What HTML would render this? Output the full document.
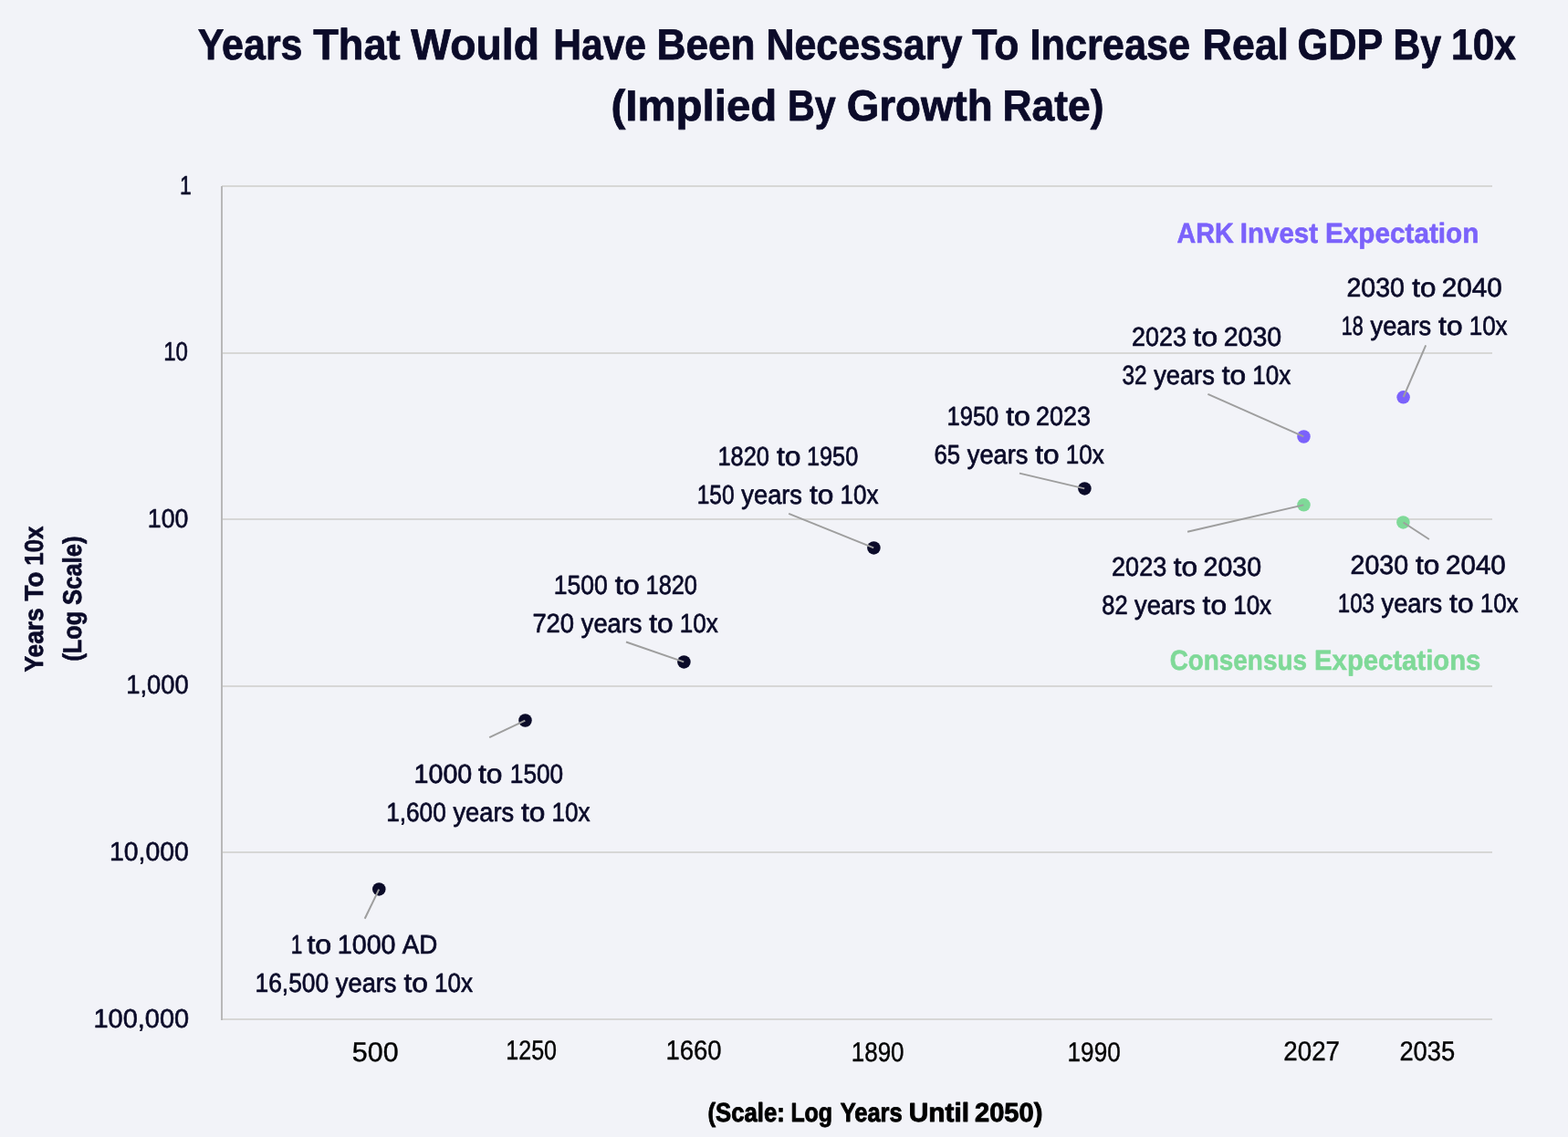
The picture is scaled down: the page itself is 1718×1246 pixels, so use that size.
<!DOCTYPE html>
<html lang="en">
<head>
<meta charset="utf-8">
<title>Years That Would Have Been Necessary To Increase Real GDP By 10x</title>
<style>
html,body{margin:0;padding:0;background:#f2f3f8;}
body{width:1718px;height:1246px;overflow:hidden;}
svg{display:block;}
text{font-family:"Liberation Sans",sans-serif;stroke-linejoin:round;text-rendering:geometricPrecision;}
.b{font-weight:bold;}
.title{font-size:47.46px;stroke-width:0.8;}
.ylab{font-size:28.97px;stroke-width:0.6;}
.xlab{font-size:29.84px;stroke-width:0.4;}
.xtitle{font-size:29.07px;stroke-width:0.9;}
.dl{font-size:29.14px;stroke-width:0.7;}
.legend{font-size:30.81px;stroke-width:0.6;}
.rot{font-size:28.63px;stroke-width:0.7;}
</style>
</head>
<body>
<svg width="1718" height="1246" viewBox="0 0 1718 1246">
<rect width="1718" height="1246" fill="#f2f3f8"/>
<g id="grid">
<rect x="243" y="203.0" width="1392" height="2" fill="#d7d7d6"/>
<rect x="243" y="386.0" width="1392" height="2" fill="#d7d7d6"/>
<rect x="243" y="568.0" width="1392" height="2" fill="#d7d7d6"/>
<rect x="243" y="751.0" width="1392" height="2" fill="#d7d7d6"/>
<rect x="243" y="933.0" width="1392" height="2" fill="#d7d7d6"/>
<rect x="243" y="1116.0" width="1392" height="2" fill="#d7d7d6"/>
<rect x="242" y="204.0" width="2" height="914.0" fill="#b8b8b8"/>
</g>
<g id="points">
<circle cx="415.3" cy="974.4" r="7.25" fill="#0b0b29"/>
<circle cx="575.5" cy="789.5" r="7.25" fill="#0b0b29"/>
<circle cx="749.4" cy="725.4" r="7.25" fill="#0b0b29"/>
<circle cx="957.4" cy="600.4" r="7.25" fill="#0b0b29"/>
<circle cx="1188.4" cy="535.4" r="7.25" fill="#0b0b29"/>
<circle cx="1428.5" cy="478.5" r="7.25" fill="#7b62fb"/>
<circle cx="1537.6" cy="435.3" r="7.25" fill="#7b62fb"/>
<circle cx="1428.5" cy="553.3" r="7.25" fill="#7fd998"/>
<circle cx="1537.4" cy="572.4" r="7.25" fill="#7fd998"/>
<line x1="415.21" y1="974.58" x2="399.7" y2="1006.7" stroke="#9e9e9e" stroke-width="2"/>
<line x1="575.32" y1="789.59" x2="536.2" y2="808.1" stroke="#9e9e9e" stroke-width="2"/>
<line x1="749.21" y1="725.33" x2="686.0" y2="703.5" stroke="#9e9e9e" stroke-width="2"/>
<line x1="957.21" y1="600.33" x2="864.2" y2="562.9" stroke="#9e9e9e" stroke-width="2"/>
<line x1="1188.21" y1="535.35" x2="1117.0" y2="518.6" stroke="#9e9e9e" stroke-width="2"/>
<line x1="1428.32" y1="478.42" x2="1323.4" y2="431.8" stroke="#9e9e9e" stroke-width="2"/>
<line x1="1537.68" y1="435.12" x2="1562.2" y2="378.3" stroke="#9e9e9e" stroke-width="2"/>
<line x1="1428.31" y1="553.35" x2="1301.1" y2="582.8" stroke="#9e9e9e" stroke-width="2"/>
<line x1="1537.57" y1="572.51" x2="1565.9" y2="591.0" stroke="#9e9e9e" stroke-width="2"/>
</g>
<g id="labels">
<text class="title b" y="65" fill="#0b0b29" stroke="#0b0b29"><tspan x="216.84" textLength="114.66" lengthAdjust="spacingAndGlyphs">Years</tspan> <tspan x="343.25" textLength="95.35" lengthAdjust="spacingAndGlyphs">That</tspan> <tspan x="450.35" textLength="140.62" lengthAdjust="spacingAndGlyphs">Would</tspan> <tspan x="606.26" textLength="101.78" lengthAdjust="spacingAndGlyphs">Have</tspan> <tspan x="719.45" textLength="108.19" lengthAdjust="spacingAndGlyphs">Been</tspan> <tspan x="839.44" textLength="214.90" lengthAdjust="spacingAndGlyphs">Necessary</tspan> <tspan x="1065.35" textLength="51.12" lengthAdjust="spacingAndGlyphs">To</tspan> <tspan x="1128.52" textLength="175.61" lengthAdjust="spacingAndGlyphs">Increase</tspan> <tspan x="1317.62" textLength="94.41" lengthAdjust="spacingAndGlyphs">Real</tspan> <tspan x="1421.58" textLength="92.96" lengthAdjust="spacingAndGlyphs">GDP</tspan> <tspan x="1526.45" textLength="52.76" lengthAdjust="spacingAndGlyphs">By</tspan> <tspan x="1590.12" textLength="70.65" lengthAdjust="spacingAndGlyphs">10x</tspan></text>
<text class="title b" y="132" fill="#0b0b29" stroke="#0b0b29"><tspan x="669.43" textLength="181.85" lengthAdjust="spacingAndGlyphs">(Implied</tspan> <tspan x="862.95" textLength="52.76" lengthAdjust="spacingAndGlyphs">By</tspan> <tspan x="927.77" textLength="160.00" lengthAdjust="spacingAndGlyphs">Growth</tspan> <tspan x="1098.44" textLength="111.01" lengthAdjust="spacingAndGlyphs">Rate)</tspan></text>
<text class="ylab" y="213" fill="#0b0b29" stroke="#0b0b29"><tspan x="196.99" textLength="12.78" lengthAdjust="spacingAndGlyphs">1</tspan></text>
<text class="ylab" y="395" fill="#0b0b29" stroke="#0b0b29"><tspan x="179.15" textLength="26.79" lengthAdjust="spacingAndGlyphs">10</tspan></text>
<text class="ylab" y="578" fill="#0b0b29" stroke="#0b0b29"><tspan x="161.85" textLength="44.58" lengthAdjust="spacingAndGlyphs">100</tspan></text>
<text class="ylab" y="760" fill="#0b0b29" stroke="#0b0b29"><tspan x="138.30" textLength="68.47" lengthAdjust="spacingAndGlyphs">1,000</tspan></text>
<text class="ylab" y="943" fill="#0b0b29" stroke="#0b0b29"><tspan x="119.92" textLength="86.98" lengthAdjust="spacingAndGlyphs">10,000</tspan></text>
<text class="ylab" y="1126" fill="#0b0b29" stroke="#0b0b29"><tspan x="102.48" textLength="104.73" lengthAdjust="spacingAndGlyphs">100,000</tspan></text>
<text class="xlab" y="1163" fill="#000000" stroke="#000000"><tspan x="385.88" textLength="50.79" lengthAdjust="spacingAndGlyphs">500</tspan></text>
<text class="xlab" y="1161" fill="#000000" stroke="#000000"><tspan x="554.28" textLength="55.78" lengthAdjust="spacingAndGlyphs">1250</tspan></text>
<text class="xlab" y="1161" fill="#000000" stroke="#000000"><tspan x="729.49" textLength="61.15" lengthAdjust="spacingAndGlyphs">1660</tspan></text>
<text class="xlab" y="1163" fill="#000000" stroke="#000000"><tspan x="932.71" textLength="57.88" lengthAdjust="spacingAndGlyphs">1890</tspan></text>
<text class="xlab" y="1163" fill="#000000" stroke="#000000"><tspan x="1169.60" textLength="58.09" lengthAdjust="spacingAndGlyphs">1990</tspan></text>
<text class="xlab" y="1162" fill="#000000" stroke="#000000"><tspan x="1406.31" textLength="61.71" lengthAdjust="spacingAndGlyphs">2027</tspan></text>
<text class="xlab" y="1162" fill="#000000" stroke="#000000"><tspan x="1533.43" textLength="60.80" lengthAdjust="spacingAndGlyphs">2035</tspan></text>
<text class="xtitle b" y="1229" fill="#000000" stroke="#000000"><tspan x="775.46" textLength="84.36" lengthAdjust="spacingAndGlyphs">(Scale:</tspan> <tspan x="866.39" textLength="45.71" lengthAdjust="spacingAndGlyphs">Log</tspan> <tspan x="920.64" textLength="68.12" lengthAdjust="spacingAndGlyphs">Years</tspan> <tspan x="995.66" textLength="66.33" lengthAdjust="spacingAndGlyphs">Until</tspan> <tspan x="1067.98" textLength="74.45" lengthAdjust="spacingAndGlyphs">2050)</tspan></text>
<text class="dl" y="1045" fill="#0b0b29" stroke="#0b0b29"><tspan x="318.81" textLength="12.54" lengthAdjust="spacingAndGlyphs">1</tspan> <tspan x="336.41" textLength="26.90" lengthAdjust="spacingAndGlyphs">to</tspan> <tspan x="369.79" textLength="63.70" lengthAdjust="spacingAndGlyphs">1000</tspan> <tspan x="440.83" textLength="38.57" lengthAdjust="spacingAndGlyphs">AD</tspan></text>
<text class="dl" y="1087" fill="#0b0b29" stroke="#0b0b29"><tspan x="279.53" textLength="80.64" lengthAdjust="spacingAndGlyphs">16,500</tspan> <tspan x="367.86" textLength="66.65" lengthAdjust="spacingAndGlyphs">years</tspan> <tspan x="442.42" textLength="26.42" lengthAdjust="spacingAndGlyphs">to</tspan> <tspan x="475.95" textLength="42.02" lengthAdjust="spacingAndGlyphs">10x</tspan></text>
<text class="dl" y="858" fill="#0b0b29" stroke="#0b0b29"><tspan x="453.57" textLength="63.70" lengthAdjust="spacingAndGlyphs">1000</tspan> <tspan x="524.00" textLength="26.55" lengthAdjust="spacingAndGlyphs">to</tspan> <tspan x="558.87" textLength="58.20" lengthAdjust="spacingAndGlyphs">1500</tspan></text>
<text class="dl" y="900" fill="#0b0b29" stroke="#0b0b29"><tspan x="423.14" textLength="65.64" lengthAdjust="spacingAndGlyphs">1,600</tspan> <tspan x="496.46" textLength="66.65" lengthAdjust="spacingAndGlyphs">years</tspan> <tspan x="571.02" textLength="26.42" lengthAdjust="spacingAndGlyphs">to</tspan> <tspan x="604.55" textLength="42.02" lengthAdjust="spacingAndGlyphs">10x</tspan></text>
<text class="dl" y="651" fill="#0b0b29" stroke="#0b0b29"><tspan x="606.72" textLength="59.06" lengthAdjust="spacingAndGlyphs">1500</tspan> <tspan x="673.89" textLength="26.90" lengthAdjust="spacingAndGlyphs">to</tspan> <tspan x="707.52" textLength="56.48" lengthAdjust="spacingAndGlyphs">1820</tspan></text>
<text class="dl" y="693" fill="#0b0b29" stroke="#0b0b29"><tspan x="583.38" textLength="45.73" lengthAdjust="spacingAndGlyphs">720</tspan> <tspan x="636.76" textLength="66.65" lengthAdjust="spacingAndGlyphs">years</tspan> <tspan x="711.32" textLength="26.42" lengthAdjust="spacingAndGlyphs">to</tspan> <tspan x="744.85" textLength="42.02" lengthAdjust="spacingAndGlyphs">10x</tspan></text>
<text class="dl" y="510" fill="#0b0b29" stroke="#0b0b29"><tspan x="786.48" textLength="56.48" lengthAdjust="spacingAndGlyphs">1820</tspan> <tspan x="850.97" textLength="26.55" lengthAdjust="spacingAndGlyphs">to</tspan> <tspan x="883.94" textLength="56.31" lengthAdjust="spacingAndGlyphs">1950</tspan></text>
<text class="dl" y="552" fill="#0b0b29" stroke="#0b0b29"><tspan x="763.77" textLength="40.82" lengthAdjust="spacingAndGlyphs">150</tspan> <tspan x="812.36" textLength="66.65" lengthAdjust="spacingAndGlyphs">years</tspan> <tspan x="886.92" textLength="26.42" lengthAdjust="spacingAndGlyphs">to</tspan> <tspan x="920.45" textLength="42.02" lengthAdjust="spacingAndGlyphs">10x</tspan></text>
<text class="dl" y="466" fill="#0b0b29" stroke="#0b0b29"><tspan x="1037.51" textLength="56.83" lengthAdjust="spacingAndGlyphs">1950</tspan> <tspan x="1102.16" textLength="26.73" lengthAdjust="spacingAndGlyphs">to</tspan> <tspan x="1135.08" textLength="60.04" lengthAdjust="spacingAndGlyphs">2023</tspan></text>
<text class="dl" y="508" fill="#0b0b29" stroke="#0b0b29"><tspan x="1023.46" textLength="28.68" lengthAdjust="spacingAndGlyphs">65</tspan> <tspan x="1059.76" textLength="66.65" lengthAdjust="spacingAndGlyphs">years</tspan> <tspan x="1134.32" textLength="26.42" lengthAdjust="spacingAndGlyphs">to</tspan> <tspan x="1167.85" textLength="42.02" lengthAdjust="spacingAndGlyphs">10x</tspan></text>
<text class="dl" y="379" fill="#0b0b29" stroke="#0b0b29"><tspan x="1240.07" textLength="59.87" lengthAdjust="spacingAndGlyphs">2023</tspan> <tspan x="1307.37" textLength="26.90" lengthAdjust="spacingAndGlyphs">to</tspan> <tspan x="1340.71" textLength="63.41" lengthAdjust="spacingAndGlyphs">2030</tspan></text>
<text class="dl" y="421" fill="#0b0b29" stroke="#0b0b29"><tspan x="1229.47" textLength="27.17" lengthAdjust="spacingAndGlyphs">32</tspan> <tspan x="1264.16" textLength="66.65" lengthAdjust="spacingAndGlyphs">years</tspan> <tspan x="1338.72" textLength="26.42" lengthAdjust="spacingAndGlyphs">to</tspan> <tspan x="1372.25" textLength="42.02" lengthAdjust="spacingAndGlyphs">10x</tspan></text>
<text class="dl" y="325" fill="#0b0b29" stroke="#0b0b29"><tspan x="1475.44" textLength="63.43" lengthAdjust="spacingAndGlyphs">2030</tspan> <tspan x="1547.21" textLength="26.13" lengthAdjust="spacingAndGlyphs">to</tspan> <tspan x="1579.75" textLength="66.04" lengthAdjust="spacingAndGlyphs">2040</tspan></text>
<text class="dl" y="367" fill="#0b0b29" stroke="#0b0b29"><tspan x="1469.80" textLength="23.96" lengthAdjust="spacingAndGlyphs">18</tspan> <tspan x="1501.56" textLength="66.65" lengthAdjust="spacingAndGlyphs">years</tspan> <tspan x="1576.12" textLength="26.42" lengthAdjust="spacingAndGlyphs">to</tspan> <tspan x="1609.65" textLength="42.02" lengthAdjust="spacingAndGlyphs">10x</tspan></text>
<text class="dl" y="631" fill="#0b0b29" stroke="#0b0b29"><tspan x="1218.11" textLength="60.04" lengthAdjust="spacingAndGlyphs">2023</tspan> <tspan x="1285.76" textLength="26.38" lengthAdjust="spacingAndGlyphs">to</tspan> <tspan x="1318.59" textLength="63.41" lengthAdjust="spacingAndGlyphs">2030</tspan></text>
<text class="dl" y="673" fill="#0b0b29" stroke="#0b0b29"><tspan x="1207.25" textLength="28.35" lengthAdjust="spacingAndGlyphs">82</tspan> <tspan x="1243.06" textLength="66.65" lengthAdjust="spacingAndGlyphs">years</tspan> <tspan x="1317.62" textLength="26.42" lengthAdjust="spacingAndGlyphs">to</tspan> <tspan x="1351.15" textLength="42.02" lengthAdjust="spacingAndGlyphs">10x</tspan></text>
<text class="dl" y="629" fill="#0b0b29" stroke="#0b0b29"><tspan x="1479.62" textLength="63.41" lengthAdjust="spacingAndGlyphs">2030</tspan> <tspan x="1551.09" textLength="26.38" lengthAdjust="spacingAndGlyphs">to</tspan> <tspan x="1584.04" textLength="65.79" lengthAdjust="spacingAndGlyphs">2040</tspan></text>
<text class="dl" y="671" fill="#0b0b29" stroke="#0b0b29"><tspan x="1465.81" textLength="40.13" lengthAdjust="spacingAndGlyphs">103</tspan> <tspan x="1513.56" textLength="66.65" lengthAdjust="spacingAndGlyphs">years</tspan> <tspan x="1588.12" textLength="26.42" lengthAdjust="spacingAndGlyphs">to</tspan> <tspan x="1621.65" textLength="42.02" lengthAdjust="spacingAndGlyphs">10x</tspan></text>
<text class="legend b" y="266" fill="#7b62fb" stroke="#7b62fb"><tspan x="1289.53" textLength="62.25" lengthAdjust="spacingAndGlyphs">ARK</tspan> <tspan x="1358.83" textLength="85.26" lengthAdjust="spacingAndGlyphs">Invest</tspan> <tspan x="1452.02" textLength="168.40" lengthAdjust="spacingAndGlyphs">Expectation</tspan></text>
<text class="legend b" y="734" fill="#7fd998" stroke="#7fd998"><tspan x="1281.69" textLength="150.23" lengthAdjust="spacingAndGlyphs">Consensus</tspan> <tspan x="1440.05" textLength="182.35" lengthAdjust="spacingAndGlyphs">Expectations</tspan></text>
<text class="rot b" transform="translate(47,800.0) rotate(-90)" y="0" fill="#0b0b29" stroke="#0b0b29"><tspan x="63.42" textLength="70.37" lengthAdjust="spacingAndGlyphs">Years</tspan> <tspan x="141.57" textLength="31.82" lengthAdjust="spacingAndGlyphs">To</tspan> <tspan x="180.32" textLength="42.95" lengthAdjust="spacingAndGlyphs">10x</tspan></text>
<text class="rot b" transform="translate(89,800.0) rotate(-90)" y="0" fill="#0b0b29" stroke="#0b0b29"><tspan x="75.38" textLength="54.83" lengthAdjust="spacingAndGlyphs">(Log</tspan> <tspan x="136.88" textLength="75.75" lengthAdjust="spacingAndGlyphs">Scale)</tspan></text>
</g>
</svg>
</body>
</html>
